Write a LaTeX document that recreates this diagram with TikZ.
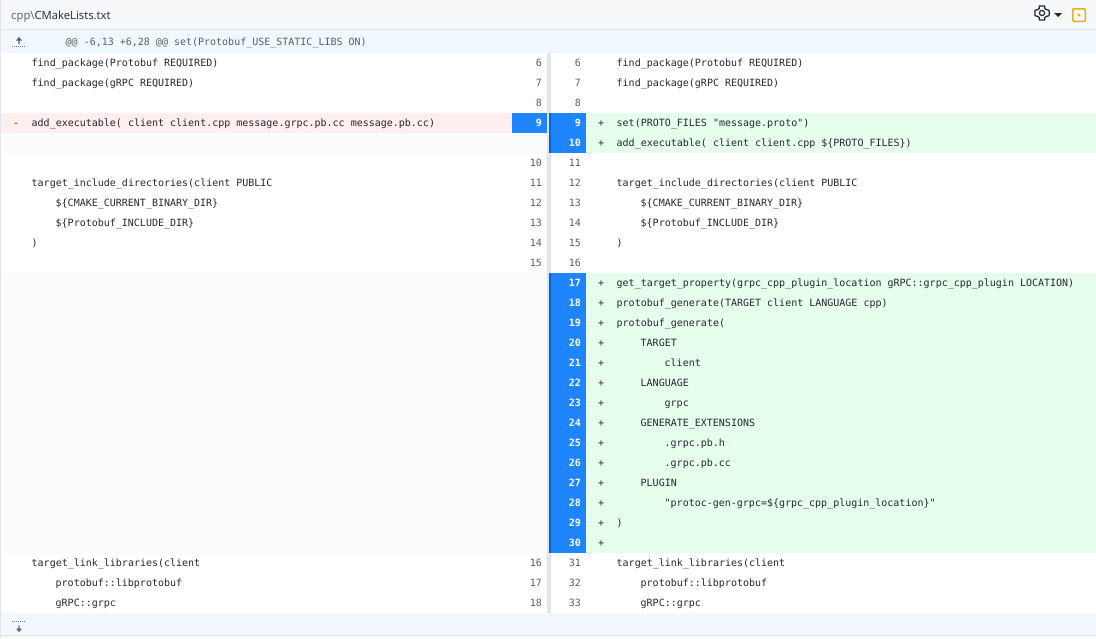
\documentclass[tikz,border=0pt]{standalone}
\usepackage{fontspec}
\setmainfont{Open Sans}
\setmonofont{DejaVu Sans Mono}
\usepackage{xcolor}
\usetikzlibrary{calc,positioning}
\definecolor{headbg}{HTML}{F6F8FA}
\definecolor{hunkbg}{HTML}{F1F8FF}
\definecolor{rulegray}{HTML}{E1E4E8}
\definecolor{emptybg}{HTML}{FAFBFC}
\definecolor{delbg}{HTML}{FFEEF0}
\definecolor{addbg}{HTML}{E6FFED}
\definecolor{selblue}{HTML}{1F85FF}
\definecolor{seldark}{HTML}{0366D6}
\definecolor{inktext}{HTML}{24292E}
\definecolor{inkgray}{HTML}{586069}
\definecolor{markyellow}{HTML}{E5B31C}
\tikzset{%
	code/.style     = {inner sep=0pt, anchor=west, text height=8pt, text depth=2pt, text=inktext, font=\ttfamily\fontsize{10}{12}\selectfont},
	hunk/.style     = {code, text=inkgray},
	lnum/.style     = {inner sep=0pt, anchor=east, text height=8pt, text depth=2pt, text=inkgray, font=\ttfamily\fontsize{10}{12}\selectfont},
	selnum/.style   = {lnum, text=white, font=\ttfamily\bfseries\fontsize{10}{12}\selectfont},
}
% one row of code: row, indent in characters, side, text
\newcommand{\codeline}[4]{\node [code] (#3c#1) at ({\csname start#3\endcsname+6*#2},{63+20*#1}) {#4};}
\newcommand{\startl}{31.5}
\newcommand{\startr}{616.5}
\begin{document}
\begin{tikzpicture}[x=1pt,y=-1pt]
	\useasboundingbox (0,0) rectangle (1096,638);
	% bands
	\fill [white] (0,0) rectangle (1096,638);
	\fill [headbg] (0,0) rectangle (1096,29);
	\fill [rulegray] (0,29) rectangle (1096,30);
	\fill [hunkbg] (0,30) rectangle (1096,53);
	\fill [hunkbg] (0,613) rectangle (1096,635);
	\fill [rulegray] (0,635) rectangle (1096,636);
	\fill [headbg] (0,636) rectangle (1096,638);
	\fill [emptybg] (0,133) rectangle (547,153);
	\fill [emptybg] (0,273) rectangle (547,553);
	\fill [delbg] (0,113) rectangle (512,133);
	\fill [selblue] (512,113) rectangle (549,133);
	\fill [addbg] (586,113) rectangle (1096,153);
	\fill [addbg] (586,273) rectangle (1096,553);
	\fill [rulegray] (547,53) rectangle (551,613);
	\fill [selblue] (551,113) rectangle (586,153);
	\fill [seldark] (549,113) rectangle (551,153);
	\fill [selblue] (551,273) rectangle (586,553);
	\fill [seldark] (549,273) rectangle (551,553);
	\fill [rulegray] (0,0) rectangle (1,638);

	% header
	\node [inner sep=0pt, anchor=west, text=inkgray, font=\fontsize{11.3}{14}\selectfont] (fname) at (11,16.5) {cpp\textbackslash\textcolor{inktext}{CMakeLists.txt}};
	\coordinate (gear) at (1042,13);
	\draw [inktext, line width=1.3pt, line join=round] plot [smooth cycle, tension=0.15] coordinates {
		($(gear)+(0:7.4)$) ($(gear)+(22:7.4)$) ($(gear)+(38:5.4)$) ($(gear)+(60:5.4)$)
		($(gear)+(68:7.4)$) ($(gear)+(112:7.4)$) ($(gear)+(120:5.4)$) ($(gear)+(142:5.4)$)
		($(gear)+(158:7.4)$) ($(gear)+(202:7.4)$) ($(gear)+(218:5.4)$) ($(gear)+(240:5.4)$)
		($(gear)+(248:7.4)$) ($(gear)+(292:7.4)$) ($(gear)+(300:5.4)$) ($(gear)+(322:5.4)$)
		($(gear)+(338:7.4)$)};
	\draw [inktext, line width=1.2pt] (gear) circle (2.6);
	\fill [inktext] (1054,13) -- (1062,13) -- (1058,17) -- cycle;
	\node [draw=markyellow, line width=1.5pt, rounded corners=1pt, minimum size=12.5pt, inner sep=0pt, fill=headbg] (mark) at (1079,15) {};
	\fill [markyellow] (mark.center) circle (1.6);

	% expanders
	\fill [inkgray] (19,37) -- (22,40.5) -- (19.6,40.5) -- (19.6,44) -- (18.4,44) -- (18.4,40.5) -- (16,40.5) -- cycle;
	\draw [inkgray!80, line width=0.8pt, dash pattern=on 1pt off 1pt] (12,46.8) -- (26,46.8);
	\fill [inkgray] (19,632) -- (22,628.5) -- (19.6,628.5) -- (19.6,625.5) -- (18.4,625.5) -- (18.4,628.5) -- (16,628.5) -- cycle;
	\draw [inkgray!80, line width=0.8pt, dash pattern=on 1pt off 1pt] (12,621.8) -- (26,621.8);
	\node [hunk] (hunktext) at (65.5,42) {@@ -6,13 +6,28 @@ set(Protobuf\_USE\_STATIC\_LIBS ON)};

	% line numbers
	\foreach \rownum/\lval/\rval in {0/6/6,1/7/7,2/8/8,5/10/11,6/11/12,7/12/13,8/13/14,9/14/15,10/15/16,25/16/31,26/17/32,27/18/33} {
		\node [lnum] (ln\lval) at (542,63+20*\rownum) {\lval};
		\node [lnum] (rn\rval) at (581,63+20*\rownum) {\rval};
	}
	\node [selnum] (ln9) at (542,123) {9};
	\foreach \rownum/\rval in {3/9,4/10,11/17,12/18,13/19,14/20,15/21,16/22,17/23,18/24,19/25,20/26,21/27,22/28,23/29,24/30} {
		\node [selnum] (rn\rval) at (581,63+20*\rownum) {\rval};
		\node [code] (plus\rval) at (598,63+20*\rownum) {+};
	}
	\node [code] (minus) at (13,123) {-};

	% left side
	\codeline{0}{0}{l}{find\_package(Protobuf REQUIRED)}
	\codeline{1}{0}{l}{find\_package(gRPC REQUIRED)}
	\codeline{3}{0}{l}{add\_executable( client client.cpp message.grpc.pb.cc message.pb.cc)}
	\codeline{6}{0}{l}{target\_include\_directories(client PUBLIC}
	\codeline{7}{4}{l}{\$\{CMAKE\_CURRENT\_BINARY\_DIR\}}
	\codeline{8}{4}{l}{\$\{Protobuf\_INCLUDE\_DIR\}}
	\codeline{9}{0}{l}{)}
	\codeline{25}{0}{l}{target\_link\_libraries(client}
	\codeline{26}{4}{l}{protobuf::libprotobuf}
	\codeline{27}{4}{l}{gRPC::grpc}

	% right side
	\codeline{0}{0}{r}{find\_package(Protobuf REQUIRED)}
	\codeline{1}{0}{r}{find\_package(gRPC REQUIRED)}
	\codeline{3}{0}{r}{set(PROTO\_FILES "message.proto")}
	\codeline{4}{0}{r}{add\_executable( client client.cpp \$\{PROTO\_FILES\})}
	\codeline{6}{0}{r}{target\_include\_directories(client PUBLIC}
	\codeline{7}{4}{r}{\$\{CMAKE\_CURRENT\_BINARY\_DIR\}}
	\codeline{8}{4}{r}{\$\{Protobuf\_INCLUDE\_DIR\}}
	\codeline{9}{0}{r}{)}
	\codeline{11}{0}{r}{get\_target\_property(grpc\_cpp\_plugin\_location gRPC::grpc\_cpp\_plugin LOCATION)}
	\codeline{12}{0}{r}{protobuf\_generate(TARGET client LANGUAGE cpp)}
	\codeline{13}{0}{r}{protobuf\_generate(}
	\codeline{14}{4}{r}{TARGET}
	\codeline{15}{8}{r}{client}
	\codeline{16}{4}{r}{LANGUAGE}
	\codeline{17}{8}{r}{grpc}
	\codeline{18}{4}{r}{GENERATE\_EXTENSIONS}
	\codeline{19}{8}{r}{.grpc.pb.h}
	\codeline{20}{8}{r}{.grpc.pb.cc}
	\codeline{21}{4}{r}{PLUGIN}
	\codeline{22}{8}{r}{"protoc-gen-grpc=\$\{grpc\_cpp\_plugin\_location\}"}
	\codeline{23}{0}{r}{)}
	\codeline{25}{0}{r}{target\_link\_libraries(client}
	\codeline{26}{4}{r}{protobuf::libprotobuf}
	\codeline{27}{4}{r}{gRPC::grpc}
\end{tikzpicture}
\end{document}
